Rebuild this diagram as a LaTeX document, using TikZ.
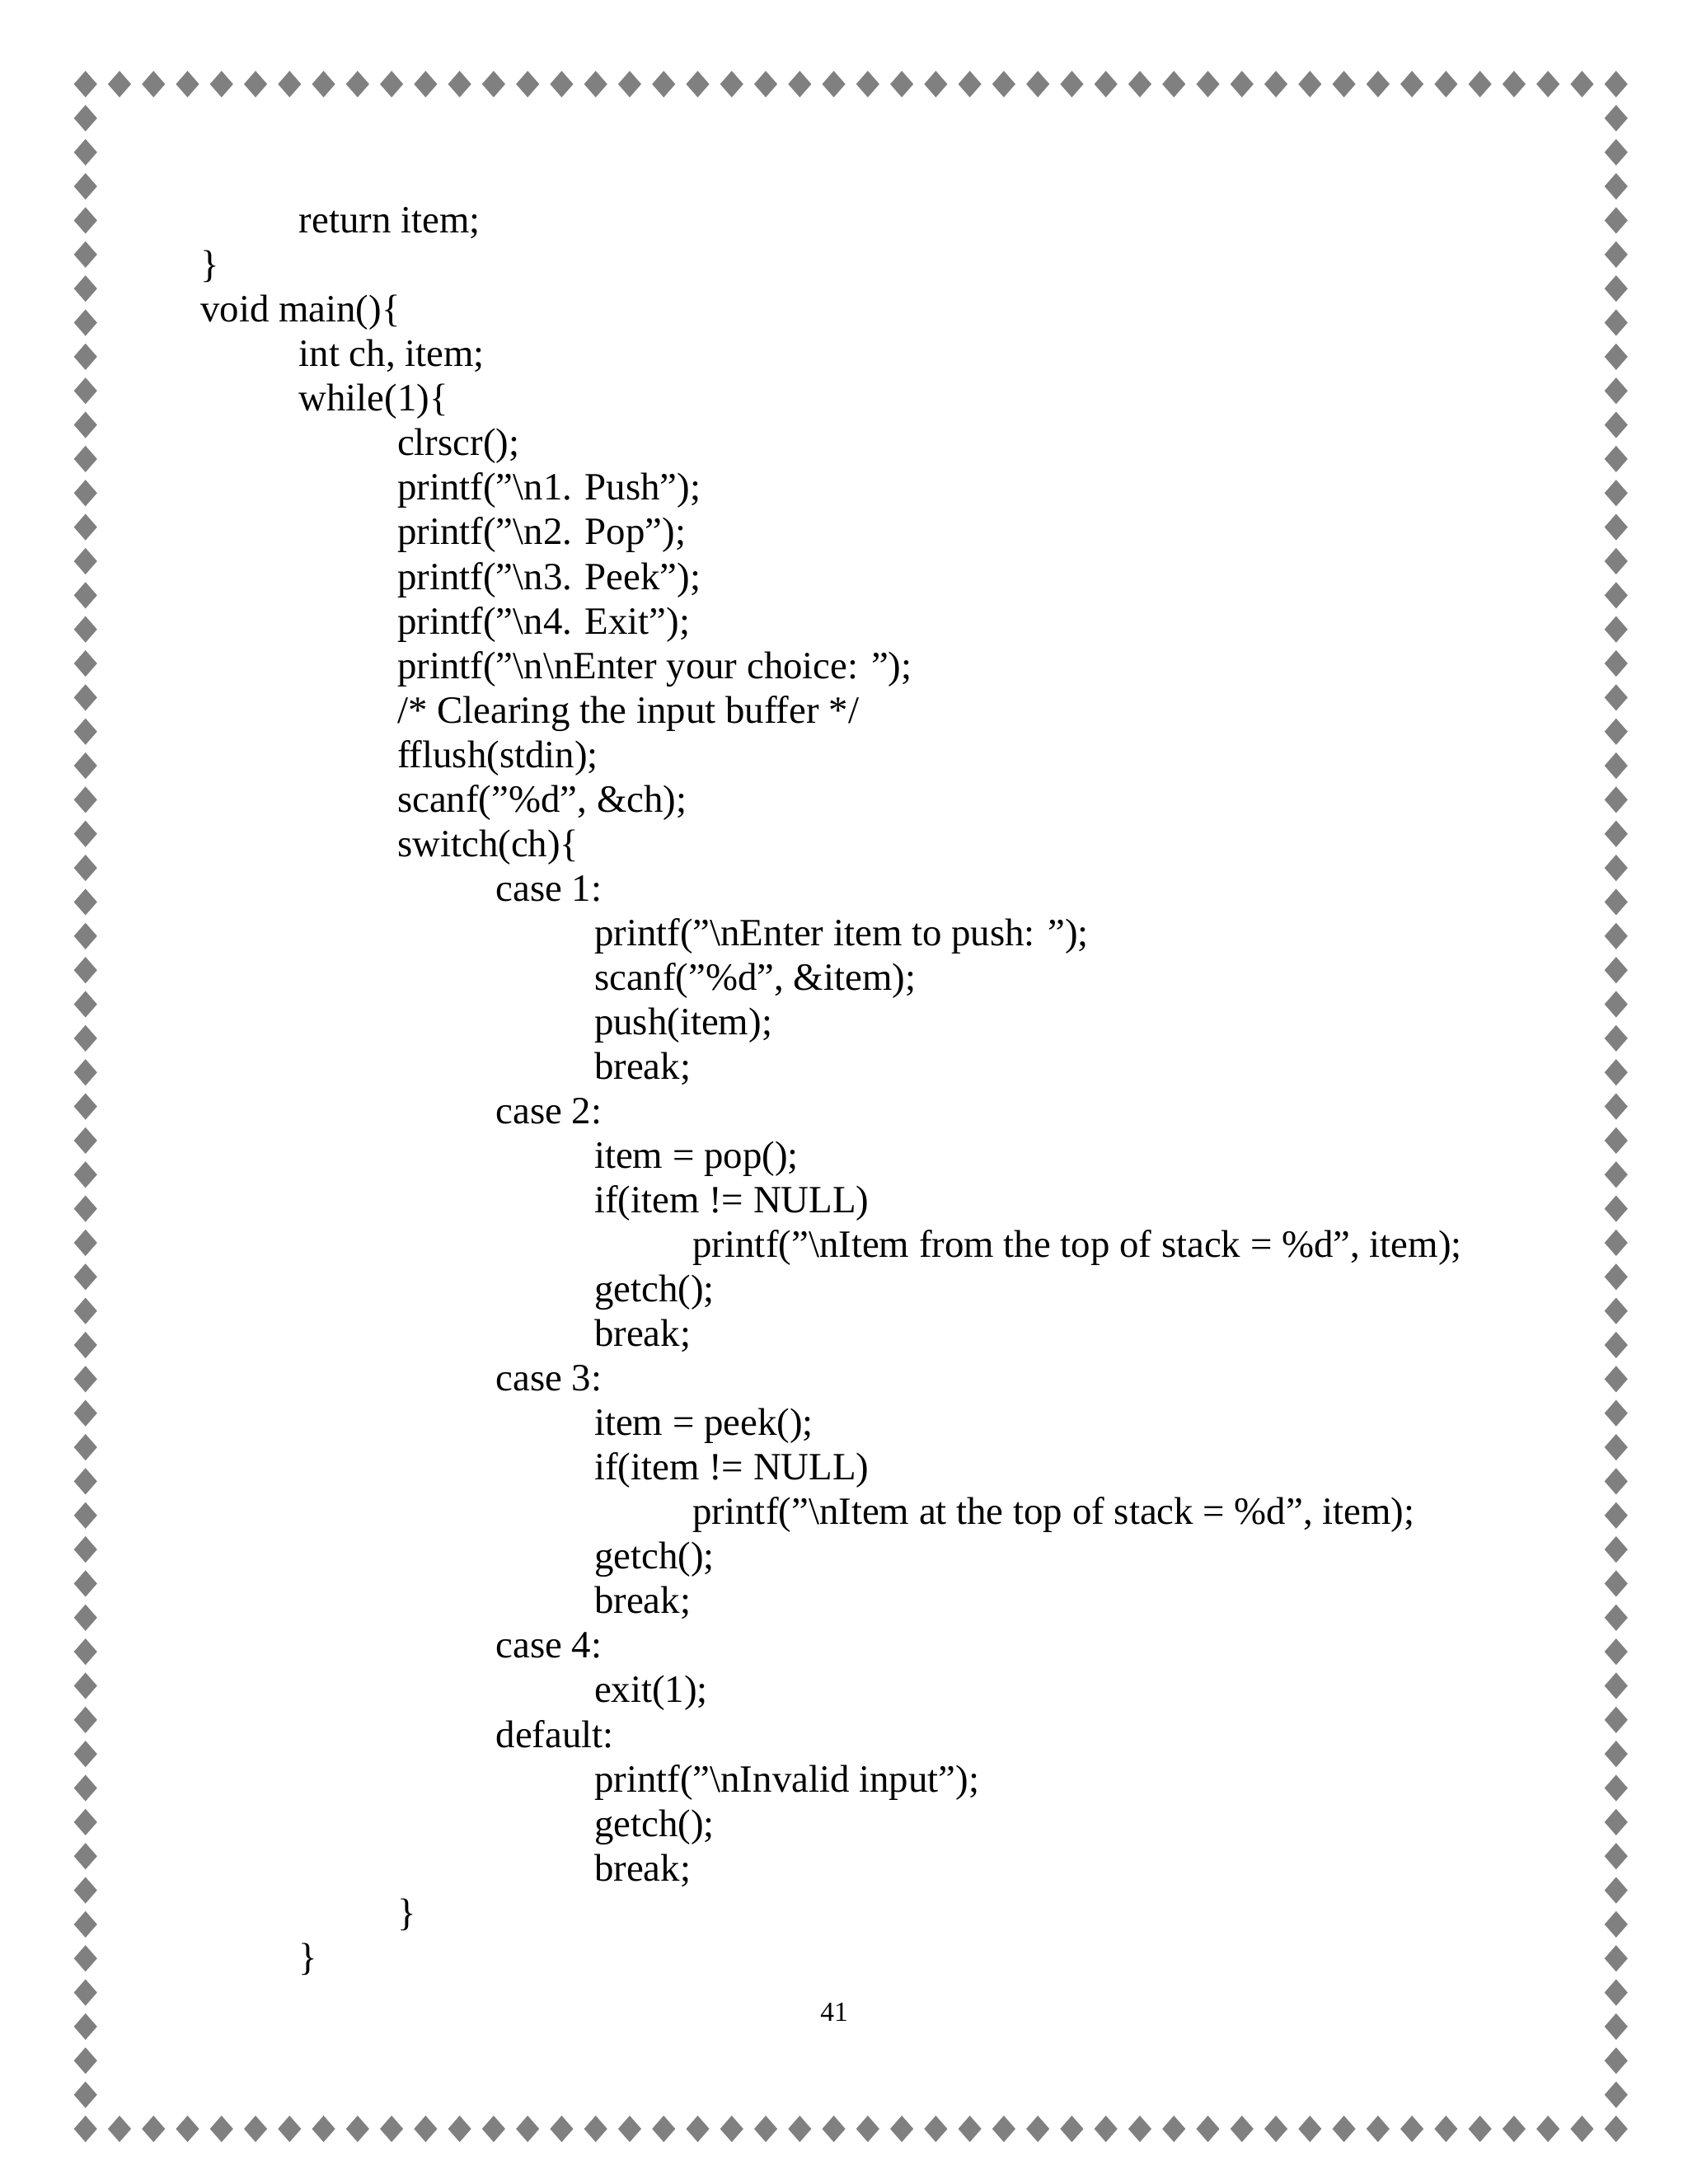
\documentclass[tikz,border=0pt]{standalone}
\usepackage{fontspec}
\setmainfont{Liberation Serif}
\begin{document}
\begin{tikzpicture}[x=1pt,y=-1pt,
  code/.style={anchor=base west,inner sep=0pt,font=\fontsize{14}{16}\selectfont}]
\useasboundingbox (0,0) rectangle (612,792);
\fill[white] (0,0) rectangle (612,792);
\def\q{\char34\relax}
\def\dm#1#2{\fill[gray] (#1-4.2,#2) -- (#1,#2-4.8) -- (#1+4.2,#2) -- (#1,#2+4.8) -- cycle;}
\foreach \i in {0,...,45}{
  \pgfmathsetmacro\xx{31+\i*12.333}
  \dm{\xx}{30.5}\dm{\xx}{772}}
\foreach \i in {1,...,59}{
  \pgfmathsetmacro\yy{30.5+\i*12.358}
  \dm{31}{\yy}\dm{586}{\yy}}
\def\ind{35.7}
\newcommand\cl[3]{\node[code] (l#1) at (72.5+#2*\ind, 84.5+#1*16.15-16.15) {#3};}
\cl{1}{1}{return item;}
\cl{2}{0}{\}}
\cl{3}{0}{void main()\{}
\cl{4}{1}{int ch, item;}
\cl{5}{1}{while(1)\{}
\cl{6}{2}{clrscr();}
\cl{7}{2}{printf(\q\textbackslash n1. Push\q);}
\cl{8}{2}{printf(\q\textbackslash n2. Pop\q);}
\cl{9}{2}{printf(\q\textbackslash n3. Peek\q);}
\cl{10}{2}{printf(\q\textbackslash n4. Exit\q);}
\cl{11}{2}{printf(\q\textbackslash n\textbackslash nEnter your choice: \q);}
\cl{12}{2}{/* Clearing the input buffer */}
\cl{13}{2}{fflush(stdin);}
\cl{14}{2}{scanf(\q\%d\q, \&ch);}
\cl{15}{2}{switch(ch)\{}
\cl{16}{3}{case 1:}
\cl{17}{4}{printf(\q\textbackslash nEnter item to push: \q);}
\cl{18}{4}{scanf(\q\%d\q, \&item);}
\cl{19}{4}{push(item);}
\cl{20}{4}{break;}
\cl{21}{3}{case 2:}
\cl{22}{4}{item = pop();}
\cl{23}{4}{if(item != NULL)}
\cl{24}{5}{printf(\q\textbackslash nItem from the top of stack = \%d\q, item);}
\cl{25}{4}{getch();}
\cl{26}{4}{break;}
\cl{27}{3}{case 3:}
\cl{28}{4}{item = peek();}
\cl{29}{4}{if(item != NULL)}
\cl{30}{5}{printf(\q\textbackslash nItem at the top of stack = \%d\q, item);}
\cl{31}{4}{getch();}
\cl{32}{4}{break;}
\cl{33}{3}{case 4:}
\cl{34}{4}{exit(1);}
\cl{35}{3}{default:}
\cl{36}{4}{printf(\q\textbackslash nInvalid input\q);}
\cl{37}{4}{getch();}
\cl{38}{4}{break;}
\cl{39}{2}{\}}
\cl{40}{1}{\}}
\node[anchor=base,inner sep=0pt,font=\fontsize{10}{12}\selectfont] (pg) at (302.5,733) {41};
\end{tikzpicture}
\end{document}
